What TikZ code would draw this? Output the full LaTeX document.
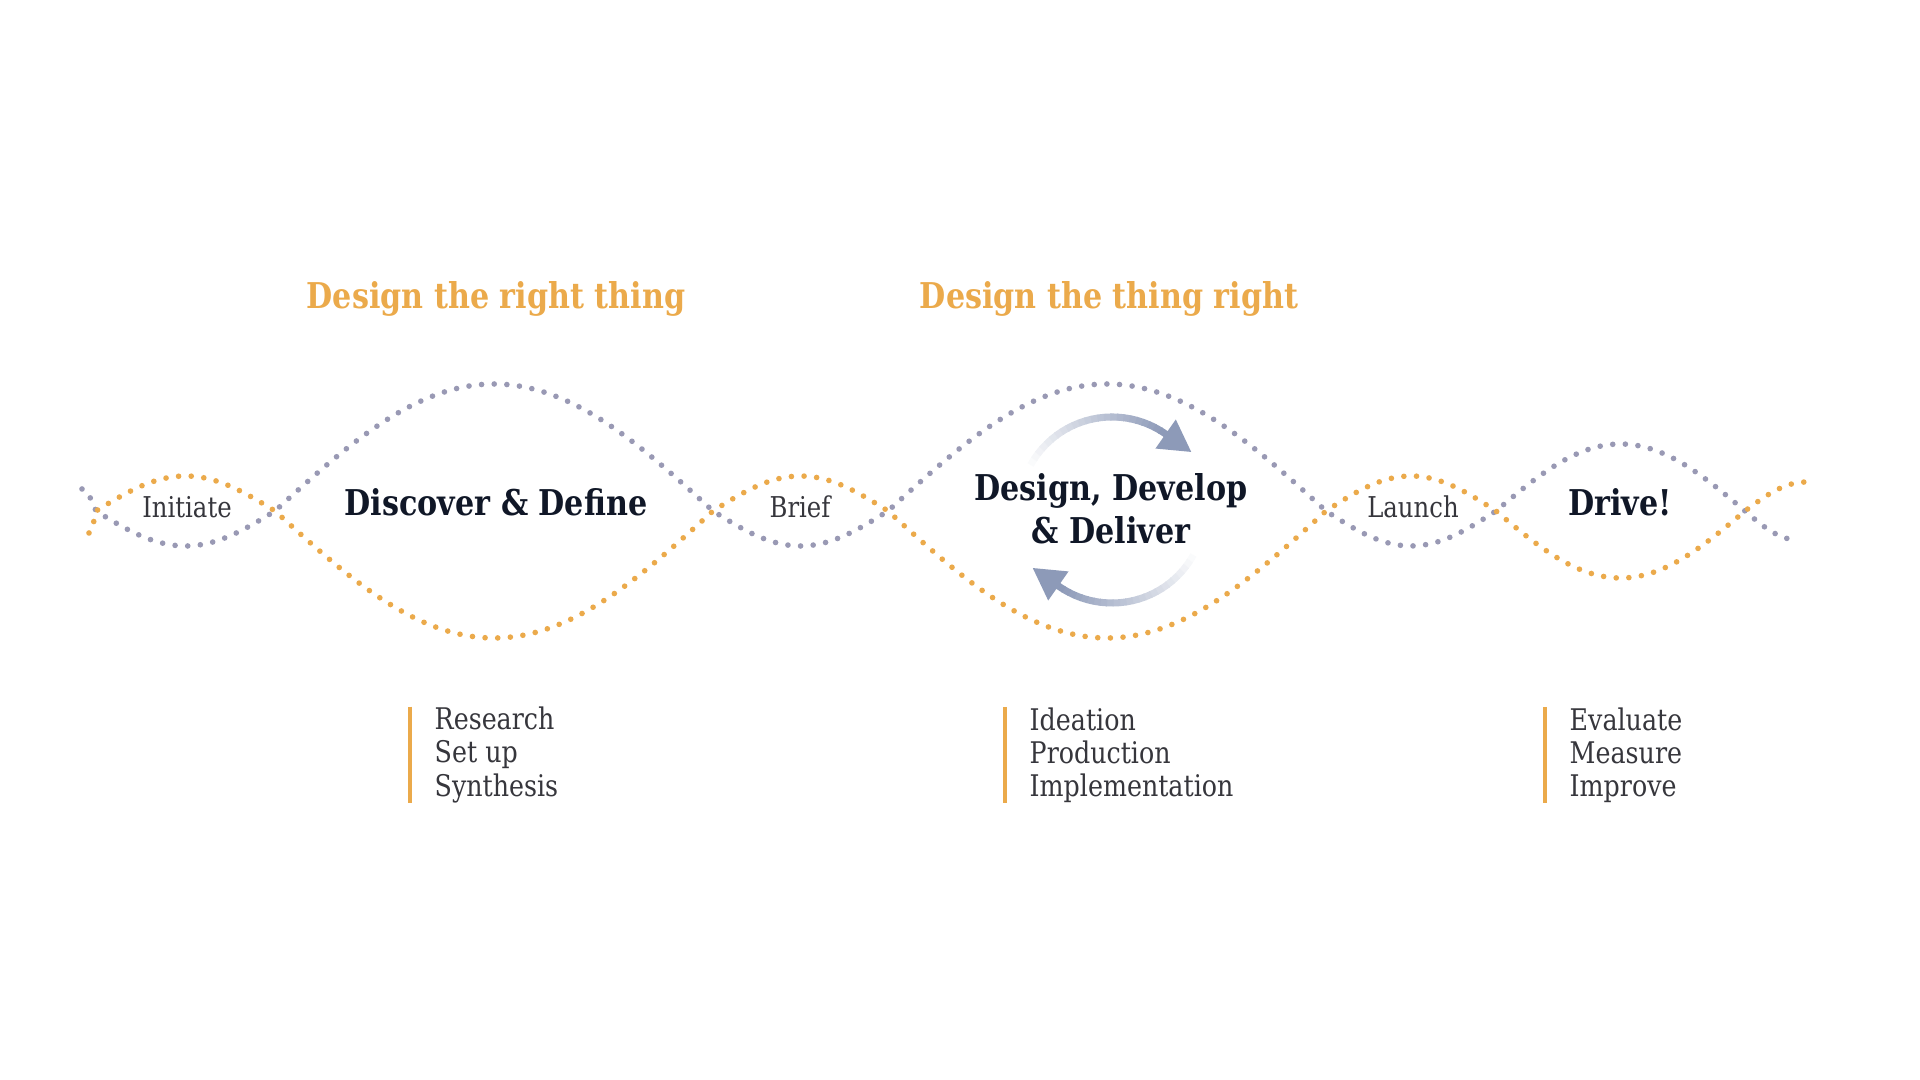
\documentclass[tikz,border=0pt]{standalone}
\usepackage{fontspec}
\setmainfont{DejaVu Serif}[FakeStretch=0.85]
\usetikzlibrary{arrows.meta}

\definecolor{ochre}{HTML}{EBAA4B}
\definecolor{lilac}{HTML}{9999B4}
\definecolor{slate}{HTML}{8D9AB8}
\definecolor{ink}{HTML}{101727}
\definecolor{softink}{HTML}{36363C}

\begin{document}
\begin{tikzpicture}[x=0.01cm,y=-0.01cm,
  head node/.style={font=\fontsize{10.1}{12}\selectfont\bfseries,text=ochre},
  phase node/.style={font=\fontsize{10.1}{12.2}\selectfont\bfseries,text=ink,align=center},
  gate node/.style={font=\fontsize{8.15}{9}\selectfont,text=softink},
  list node/.style={font=\fontsize{8.47}{9.4}\selectfont,text=softink,align=left,
    anchor=west,inner xsep=0.24cm,inner ysep=0pt}]

  \tikzstyle{strand} = [line width=1.6pt,line cap=round,dash pattern=on 0pt off 3.6pt]
  \tikzstyle{listbar} = [draw,line width=1.4pt,ochre]
  \tikzstyle{cycle arrow} = [line width=2pt]

  \useasboundingbox (0,0) rectangle (1920,1080);

  % the two strands
  \def\lobes{96/275/35, 275/713/-127, 713/888/35, 888/1326/-127, 1326/1496/35, 1496/1745/-67}
  \draw[strand,lilac] (82,489) cos (96,511)
    \foreach \xa/\xb/\amp in \lobes {sin ({(\xa+\xb)/2},{511+\amp}) cos (\xb,511)}
    sin (1798,540);
  \draw[strand,ochre] (89,533) cos (96,511)
    \foreach \xa/\xb/\amp in \lobes {sin ({(\xa+\xb)/2},{511-\amp}) cos (\xb,511)}
    sin (1806,482);

  % headings
  \node[head node] (head1) at (496,299) {Design the right thing};
  \node[head node] (head2) at (1109,299) {Design the thing right};

  % phases and gates
  \node[gate node] (init) at (187,507) {Initiate};
  \node[phase node] (discover) at (496,502) {Discover \& Define};
  \node[gate node] (brief) at (800,507) {Brief};
  \node[phase node] (design) at (1111,509) {Design, Develop\\\& Deliver};
  \node[gate node] (launch) at (1413,507) {Launch};
  \node[phase node] (drive) at (1620,502) {Drive!};

  % iteration arrows round the middle phase
  \foreach \rot in {0,180}{
  \begin{scope}[shift={(1112,510)},y=0.01cm,rotate=\rot]
    \foreach \a in {155,151,...,59}{
      \pgfmathsetmacro\p{(155-\a)*100/96}
      \draw[cycle arrow,slate!\p!white] (\a:93) arc[start angle=\a,end angle=\a-4.6,radius=93];
    }
    \draw[cycle arrow,slate,-{Triangle[length=9pt,width=9.5pt]}] (55:93) -- ++(-35:32);
  \end{scope}}

  % activity lists
  \node[list node] (list1) at (410,755) {Research\\Set up\\Synthesis};
  \node[list node] (list2) at (1005,755) {Ideation\\Production\\Implementation};
  \node[list node] (list3) at (1545,755) {Evaluate\\Measure\\Improve};
  \foreach \l in {list1,list2,list3}
    \draw[listbar] (\l.north west) -- (\l.south west);
\end{tikzpicture}
\end{document}
